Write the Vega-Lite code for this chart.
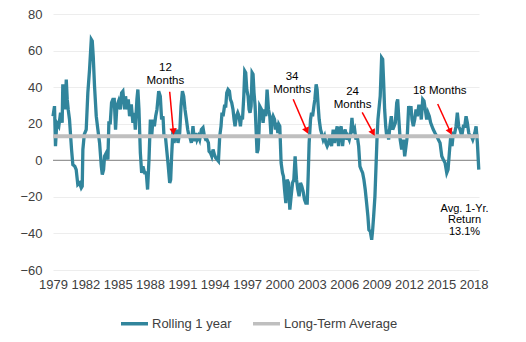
{
  "$schema": "https://vega.github.io/schema/vega-lite/v6.json",
  "width": 426,
  "height": 256,
  "autosize": {"type": "none"},
  "padding": {"left": 53, "top": 14, "right": 47, "bottom": 72},
  "config": {
    "view": {"stroke": null},
    "font": "Liberation Sans"
  },
  "datasets": {
    "line": [
      {"t":1979.00,"v":24.1},{"t":1979.14,"v":29.6},{"t":1979.23,"v":7.7},{"t":1979.35,"v":20.5},{"t":1979.54,"v":18.6},
      {"t":1979.70,"v":26},{"t":1979.85,"v":20.5},{"t":1979.91,"v":41.5},{"t":1980.04,"v":33.3},{"t":1980.13,"v":27.8},
      {"t":1980.23,"v":44.2},{"t":1980.32,"v":33.3},{"t":1980.41,"v":27.8},{"t":1980.53,"v":22.3},{"t":1980.72,"v":5.9},
      {"t":1980.84,"v":-2.4},{"t":1981.02,"v":-3.3},{"t":1981.15,"v":-5.1},{"t":1981.30,"v":-13.3},{"t":1981.46,"v":-12.4},
      {"t":1981.62,"v":-15.1},{"t":1981.71,"v":-14.2},{"t":1981.77,"v":5.9},{"t":1981.90,"v":14.1},{"t":1982.08,"v":16.8},
      {"t":1982.23,"v":36.9},{"t":1982.39,"v":49.7},{"t":1982.55,"v":66.1},{"t":1982.64,"v":65.2},{"t":1982.73,"v":57},
      {"t":1982.85,"v":40.6},{"t":1983.01,"v":24.1},{"t":1983.16,"v":16.8},{"t":1983.32,"v":9.5},{"t":1983.48,"v":-3.3},
      {"t":1983.57,"v":-7.8},{"t":1983.69,"v":-5.1},{"t":1983.78,"v":2.2},{"t":1983.94,"v":4.0},{"t":1984.09,"v":0.4},
      {"t":1984.18,"v":20.5},{"t":1984.31,"v":20.5},{"t":1984.43,"v":31.5},{"t":1984.55,"v":33.3},{"t":1984.68,"v":33.3},
      {"t":1984.80,"v":16.8},{"t":1984.92,"v":29.6},{"t":1985.08,"v":32.3},{"t":1985.24,"v":27.8},{"t":1985.36,"v":36.9},
      {"t":1985.48,"v":37.8},{"t":1985.64,"v":27.8},{"t":1985.73,"v":35},{"t":1985.85,"v":27.8},{"t":1985.98,"v":33.3},
      {"t":1986.10,"v":24.1},{"t":1986.26,"v":30.5},{"t":1986.41,"v":20.5},{"t":1986.54,"v":26},{"t":1986.63,"v":16.8},
      {"t":1986.78,"v":33.3},{"t":1986.87,"v":38.7},{"t":1986.97,"v":27.8},{"t":1987.10,"v":4.0},{"t":1987.22,"v":-6.9},
      {"t":1987.34,"v":-3.3},{"t":1987.50,"v":-6.9},{"t":1987.65,"v":-6.9},{"t":1987.77,"v":-16},{"t":1987.90,"v":0.4},
      {"t":1988.03,"v":22.3},{"t":1988.15,"v":13.2},{"t":1988.27,"v":22.3},{"t":1988.40,"v":18.6},{"t":1988.52,"v":24.1},
      {"t":1988.64,"v":27.8},{"t":1988.80,"v":37.8},{"t":1988.95,"v":35},{"t":1989.07,"v":22.3},{"t":1989.20,"v":24.1},
      {"t":1989.29,"v":13.2},{"t":1989.42,"v":13.2},{"t":1989.51,"v":7.7},{"t":1989.66,"v":-1.4},{"t":1989.82,"v":-12.4},
      {"t":1989.91,"v":-10.6},{"t":1990.00,"v":2.2},{"t":1990.12,"v":16.8},{"t":1990.22,"v":9.5},{"t":1990.35,"v":13.2},
      {"t":1990.47,"v":16.8},{"t":1990.59,"v":9.5},{"t":1990.75,"v":15},{"t":1990.87,"v":29.6},{"t":1991.00,"v":37.8},
      {"t":1991.12,"v":35},{"t":1991.24,"v":27.8},{"t":1991.37,"v":22.3},{"t":1991.49,"v":16.8},{"t":1991.61,"v":13.2},
      {"t":1991.67,"v":13.2},{"t":1991.83,"v":9.5},{"t":1991.98,"v":18.6},{"t":1992.11,"v":10.4},{"t":1992.23,"v":14.9},
      {"t":1992.35,"v":11.3},{"t":1992.48,"v":13.2},{"t":1992.60,"v":11.3},{"t":1992.76,"v":16.8},{"t":1992.91,"v":17.8},
      {"t":1993.04,"v":13.2},{"t":1993.16,"v":11.3},{"t":1993.28,"v":11.3},{"t":1993.41,"v":9.5},{"t":1993.47,"v":4.9},
      {"t":1993.60,"v":4.0},{"t":1993.72,"v":2.2},{"t":1993.84,"v":5.9},{"t":1993.97,"v":3.1},{"t":1994.09,"v":1.3},
      {"t":1994.21,"v":0.4},{"t":1994.34,"v":-0.5},{"t":1994.46,"v":13.2},{"t":1994.58,"v":18.6},{"t":1994.67,"v":26},
      {"t":1994.77,"v":24.1},{"t":1994.90,"v":29.6},{"t":1995.02,"v":29.6},{"t":1995.11,"v":36.9},{"t":1995.23,"v":38.7},
      {"t":1995.36,"v":37.8},{"t":1995.45,"v":33.3},{"t":1995.57,"v":31.5},{"t":1995.69,"v":27.8},{"t":1995.79,"v":22.3},
      {"t":1995.88,"v":18.6},{"t":1996.01,"v":24.1},{"t":1996.13,"v":26},{"t":1996.25,"v":24.1},{"t":1996.38,"v":18.6},
      {"t":1996.47,"v":24.1},{"t":1996.57,"v":22.3},{"t":1996.69,"v":35},{"t":1996.78,"v":48.8},{"t":1996.87,"v":47.9},
      {"t":1996.97,"v":38.7},{"t":1997.09,"v":35},{"t":1997.18,"v":27.8},{"t":1997.27,"v":26},{"t":1997.37,"v":29.6},
      {"t":1997.46,"v":47.9},{"t":1997.55,"v":47.0},{"t":1997.64,"v":36.9},{"t":1997.74,"v":29.6},{"t":1997.83,"v":16.8},
      {"t":1997.92,"v":4.0},{"t":1998.02,"v":5.9},{"t":1998.11,"v":16.8},{"t":1998.17,"v":29.6},{"t":1998.33,"v":27.8},
      {"t":1998.48,"v":20.5},{"t":1998.61,"v":27.8},{"t":1998.73,"v":24.1},{"t":1998.85,"v":38.7},{"t":1998.98,"v":27.8},
      {"t":1999.10,"v":24.1},{"t":1999.22,"v":13.2},{"t":1999.32,"v":22.3},{"t":1999.41,"v":24.1},{"t":1999.54,"v":22.3},
      {"t":1999.63,"v":16.8},{"t":1999.72,"v":20.5},{"t":1999.85,"v":14.9},{"t":1999.94,"v":19.6},{"t":2000.03,"v":18.6},
      {"t":2000.15,"v":-1.4},{"t":2000.28,"v":-6.9},{"t":2000.37,"v":-8.8},{"t":2000.47,"v":-16},{"t":2000.59,"v":-23.4},
      {"t":2000.71,"v":-10.6},{"t":2000.84,"v":-12.4},{"t":2000.96,"v":-27},{"t":2001.08,"v":-19.7},{"t":2001.21,"v":-12.4},
      {"t":2001.33,"v":-10.6},{"t":2001.45,"v":2.2},{"t":2001.58,"v":-10.6},{"t":2001.70,"v":-16},{"t":2001.82,"v":-19.7},
      {"t":2001.95,"v":-12.4},{"t":2002.07,"v":-14.2},{"t":2002.19,"v":-17},{"t":2002.32,"v":-21.5},{"t":2002.44,"v":-23.4},
      {"t":2002.57,"v":-23.4},{"t":2002.66,"v":-8.8},{"t":2002.75,"v":9.5},{"t":2002.88,"v":22.3},{"t":2002.97,"v":26},
      {"t":2003.07,"v":24.1},{"t":2003.19,"v":29.6},{"t":2003.28,"v":33.3},{"t":2003.40,"v":41.5},{"t":2003.49,"v":38.7},
      {"t":2003.59,"v":29.6},{"t":2003.68,"v":22.3},{"t":2003.81,"v":16.8},{"t":2003.90,"v":14.9},{"t":2004.05,"v":11.3},
      {"t":2004.18,"v":13.2},{"t":2004.30,"v":9.5},{"t":2004.42,"v":7.7},{"t":2004.55,"v":9.5},{"t":2004.67,"v":13.2},
      {"t":2004.83,"v":7.7},{"t":2004.98,"v":16.8},{"t":2005.11,"v":9.5},{"t":2005.23,"v":14.9},{"t":2005.35,"v":18.6},
      {"t":2005.48,"v":7.7},{"t":2005.60,"v":16.8},{"t":2005.72,"v":18.6},{"t":2005.85,"v":7.7},{"t":2005.97,"v":14.9},
      {"t":2006.09,"v":16.8},{"t":2006.22,"v":11.3},{"t":2006.34,"v":13.2},{"t":2006.47,"v":11.3},{"t":2006.60,"v":14.9},
      {"t":2006.72,"v":23.2},{"t":2006.84,"v":14.9},{"t":2006.97,"v":16.8},{"t":2007.09,"v":11.3},{"t":2007.21,"v":13.2},
      {"t":2007.34,"v":7.7},{"t":2007.46,"v":-3.3},{"t":2007.58,"v":-5.1},{"t":2007.71,"v":-6.9},{"t":2007.83,"v":-10.6},
      {"t":2007.95,"v":-16},{"t":2008.08,"v":-23.4},{"t":2008.20,"v":-30.7},{"t":2008.29,"v":-38},{"t":2008.42,"v":-38.9},
      {"t":2008.55,"v":-43.5},{"t":2008.64,"v":-38},{"t":2008.73,"v":-30.7},{"t":2008.85,"v":-19.7},{"t":2008.94,"v":-5.1},
      {"t":2009.04,"v":11.3},{"t":2009.13,"v":22.3},{"t":2009.22,"v":27.8},{"t":2009.34,"v":35},{"t":2009.47,"v":56.1},
      {"t":2009.57,"v":55.2},{"t":2009.66,"v":42.4},{"t":2009.75,"v":27.8},{"t":2009.85,"v":18.6},{"t":2009.94,"v":13.2},
      {"t":2010.03,"v":16.8},{"t":2010.12,"v":11.3},{"t":2010.24,"v":18.6},{"t":2010.37,"v":24.1},{"t":2010.50,"v":16.8},
      {"t":2010.62,"v":18.6},{"t":2010.74,"v":20.5},{"t":2010.87,"v":31.5},{"t":2010.96,"v":33.3},{"t":2011.05,"v":24.1},
      {"t":2011.15,"v":14.9},{"t":2011.19,"v":11.3},{"t":2011.33,"v":5.9},{"t":2011.48,"v":11.3},{"t":2011.61,"v":2.2},
      {"t":2011.73,"v":7.7},{"t":2011.85,"v":13.2},{"t":2011.98,"v":29.6},{"t":2012.10,"v":26},{"t":2012.19,"v":29.6},
      {"t":2012.29,"v":22.3},{"t":2012.41,"v":18.6},{"t":2012.54,"v":22.3},{"t":2012.66,"v":27.8},{"t":2012.78,"v":24.1},
      {"t":2012.91,"v":29.6},{"t":2013.03,"v":29.6},{"t":2013.15,"v":22.3},{"t":2013.28,"v":33.3},{"t":2013.40,"v":32.4},
      {"t":2013.52,"v":27.8},{"t":2013.65,"v":22.3},{"t":2013.77,"v":26},{"t":2013.89,"v":24.1},{"t":2014.02,"v":20.5},
      {"t":2014.14,"v":18.6},{"t":2014.26,"v":16.8},{"t":2014.42,"v":14.9},{"t":2014.58,"v":13.2},{"t":2014.73,"v":11.3},
      {"t":2014.89,"v":9.5},{"t":2015.05,"v":2.2},{"t":2015.19,"v":0.4},{"t":2015.35,"v":-1.4},{"t":2015.51,"v":-6.9},
      {"t":2015.63,"v":-5.1},{"t":2015.75,"v":4.0},{"t":2015.88,"v":13.2},{"t":2016.00,"v":7.7},{"t":2016.12,"v":14.9},
      {"t":2016.25,"v":14.9},{"t":2016.37,"v":18.6},{"t":2016.49,"v":26},{"t":2016.62,"v":18.6},{"t":2016.74,"v":16.8},
      {"t":2016.90,"v":13.2},{"t":2017.05,"v":18.6},{"t":2017.18,"v":18.6},{"t":2017.30,"v":24.1},{"t":2017.42,"v":20.5},
      {"t":2017.55,"v":14.9},{"t":2017.67,"v":13.2},{"t":2017.79,"v":13.2},{"t":2017.92,"v":11.3},{"t":2018.11,"v":14.9},
      {"t":2018.23,"v":18.6},{"t":2018.35,"v":9.5},{"t":2018.48,"v":-5.1}
    ],
    "arrows": [
      {"label":"12","t":1989.82,"v":37.5,"t2":1990.16,"v2":15.7},
      {"label":"34","t":2001.27,"v":33.4,"t2":2002.53,"v2":16.1},
      {"label":"24","t":2007.67,"v":26.2,"t2":2008.69,"v2":15.0},
      {"label":"18","t":2014.67,"v":30.8,"t2":2015.84,"v2":15.6}
    ],
    "heads": [
      {"label":"12","t":1990.16,"v":15.7},
      {"label":"34","t":2002.53,"v":16.1},
      {"label":"24","t":2008.69,"v":15.0},
      {"label":"18","t":2015.84,"v":15.6}
    ],
    "labels": [
      {"t":1989.42,"v":50.5,"text":"12\nMonths"},
      {"t":2001.17,"v":45.3,"text":"34\nMonths"},
      {"t":2006.78,"v":37.1,"text":"24\nMonths"},
      {"t":2014.86,"v":37.8,"text":"18 Months"}
    ]
  },
  "encoding": {
    "x": {"field": "t", "type": "quantitative", "title": null,
          "scale": {"domain": [1979, 2018.5], "nice": false, "zero": false},
          "axis": {"values": [1979,1982,1985,1988,1991,1994,1997,2000,2003,2006,2009,2012,2015,2018], "format": "d",
                   "grid": false, "ticks": false, "domain": false, "labelPadding": 8, "labelFlush": false, "labelOverlap": false,
                   "labelFont": "Liberation Sans", "labelFontSize": 13, "labelColor": "#404040"}},
    "y": {"field": "v", "type": "quantitative", "title": null,
          "scale": {"domain": [-60, 80], "nice": false, "zero": false},
          "axis": {"values": [-60,-40,-20,0,20,40,60,80], "grid": true, "gridColor": "#EDEDED", "gridWidth": 1,
                   "ticks": false, "domain": false, "labelPadding": 11, "labelOverlap": false,
                   "labelFont": "Liberation Sans", "labelFontSize": 13, "labelColor": "#404040"}}
  },
  "layer": [
    {
      "data": {"values": [{"t": 1979, "v": 0}, {"t": 2018.5, "v": 0}]},
      "mark": {"type": "line", "color": "#808080", "strokeWidth": 1}
    },
    {
      "data": {"name": "line"},
      "mark": {"type": "line", "strokeWidth": 3.3},
      "encoding": {
        "color": {"datum": "Rolling 1 year", "type": "nominal",
                  "scale": {"domain": ["Rolling 1 year", "Long-Term Average"], "range": ["#31859C", "#BFBFBF"]},
                  "legend": {"orient": "none", "legendX": 66, "legendY": 294, "direction": "horizontal", "title": null,
                             "symbolType": "stroke", "symbolStrokeWidth": 3.5, "symbolSize": 729, "labelFont": "Liberation Sans",
                             "labelFontSize": 13, "labelColor": "#404040", "labelOffset": 2, "columnPadding": 14}}
      }
    },
    {
      "data": {"values": [{"t": 1979, "v": 13.1}, {"t": 2018.5, "v": 13.1}]},
      "mark": {"type": "line", "strokeWidth": 4},
      "encoding": {"color": {"datum": "Long-Term Average", "type": "nominal"}}
    },
    {
      "data": {"name": "arrows"},
      "mark": {"type": "rule", "color": "#FF0000", "strokeWidth": 1.5},
      "encoding": {"x2": {"field": "t2"}, "y2": {"field": "v2"}}
    },
    {
      "data": {"name": "heads"},
      "transform": [{"filter": "datum.label == '12'"}],
      "mark": {"type": "point", "shape": "triangle-up", "filled": true, "color": "#FF0000", "opacity": 1, "size": 55, "angle": 174.7}
    },
    {
      "data": {"name": "heads"},
      "transform": [{"filter": "datum.label == '34'"}],
      "mark": {"type": "point", "shape": "triangle-up", "filled": true, "color": "#FF0000", "opacity": 1, "size": 55, "angle": 156.6}
    },
    {
      "data": {"name": "heads"},
      "transform": [{"filter": "datum.label == '24'"}],
      "mark": {"type": "point", "shape": "triangle-up", "filled": true, "color": "#FF0000", "opacity": 1, "size": 55, "angle": 151.8}
    },
    {
      "data": {"name": "heads"},
      "transform": [{"filter": "datum.label == '18'"}],
      "mark": {"type": "point", "shape": "triangle-up", "filled": true, "color": "#FF0000", "opacity": 1, "size": 55, "angle": 155.7}
    },
    {
      "data": {"name": "labels"},
      "mark": {"type": "text", "font": "Liberation Sans", "fontSize": 11.5, "color": "#000000", "align": "center", "baseline": "middle", "lineBreak": "\n", "lineHeight": 13},
      "encoding": {"text": {"field": "text"}}
    },
    {
      "data": {"values": [{"t": 2017.16, "v": -26.4, "text": "Avg. 1-Yr.\nReturn\n13.1%"}]},
      "mark": {"type": "text", "font": "Liberation Sans", "fontSize": 11, "color": "#000000", "align": "center", "baseline": "middle", "lineBreak": "\n", "lineHeight": 11.5},
      "encoding": {"text": {"field": "text"}}
    }
  ]
}
